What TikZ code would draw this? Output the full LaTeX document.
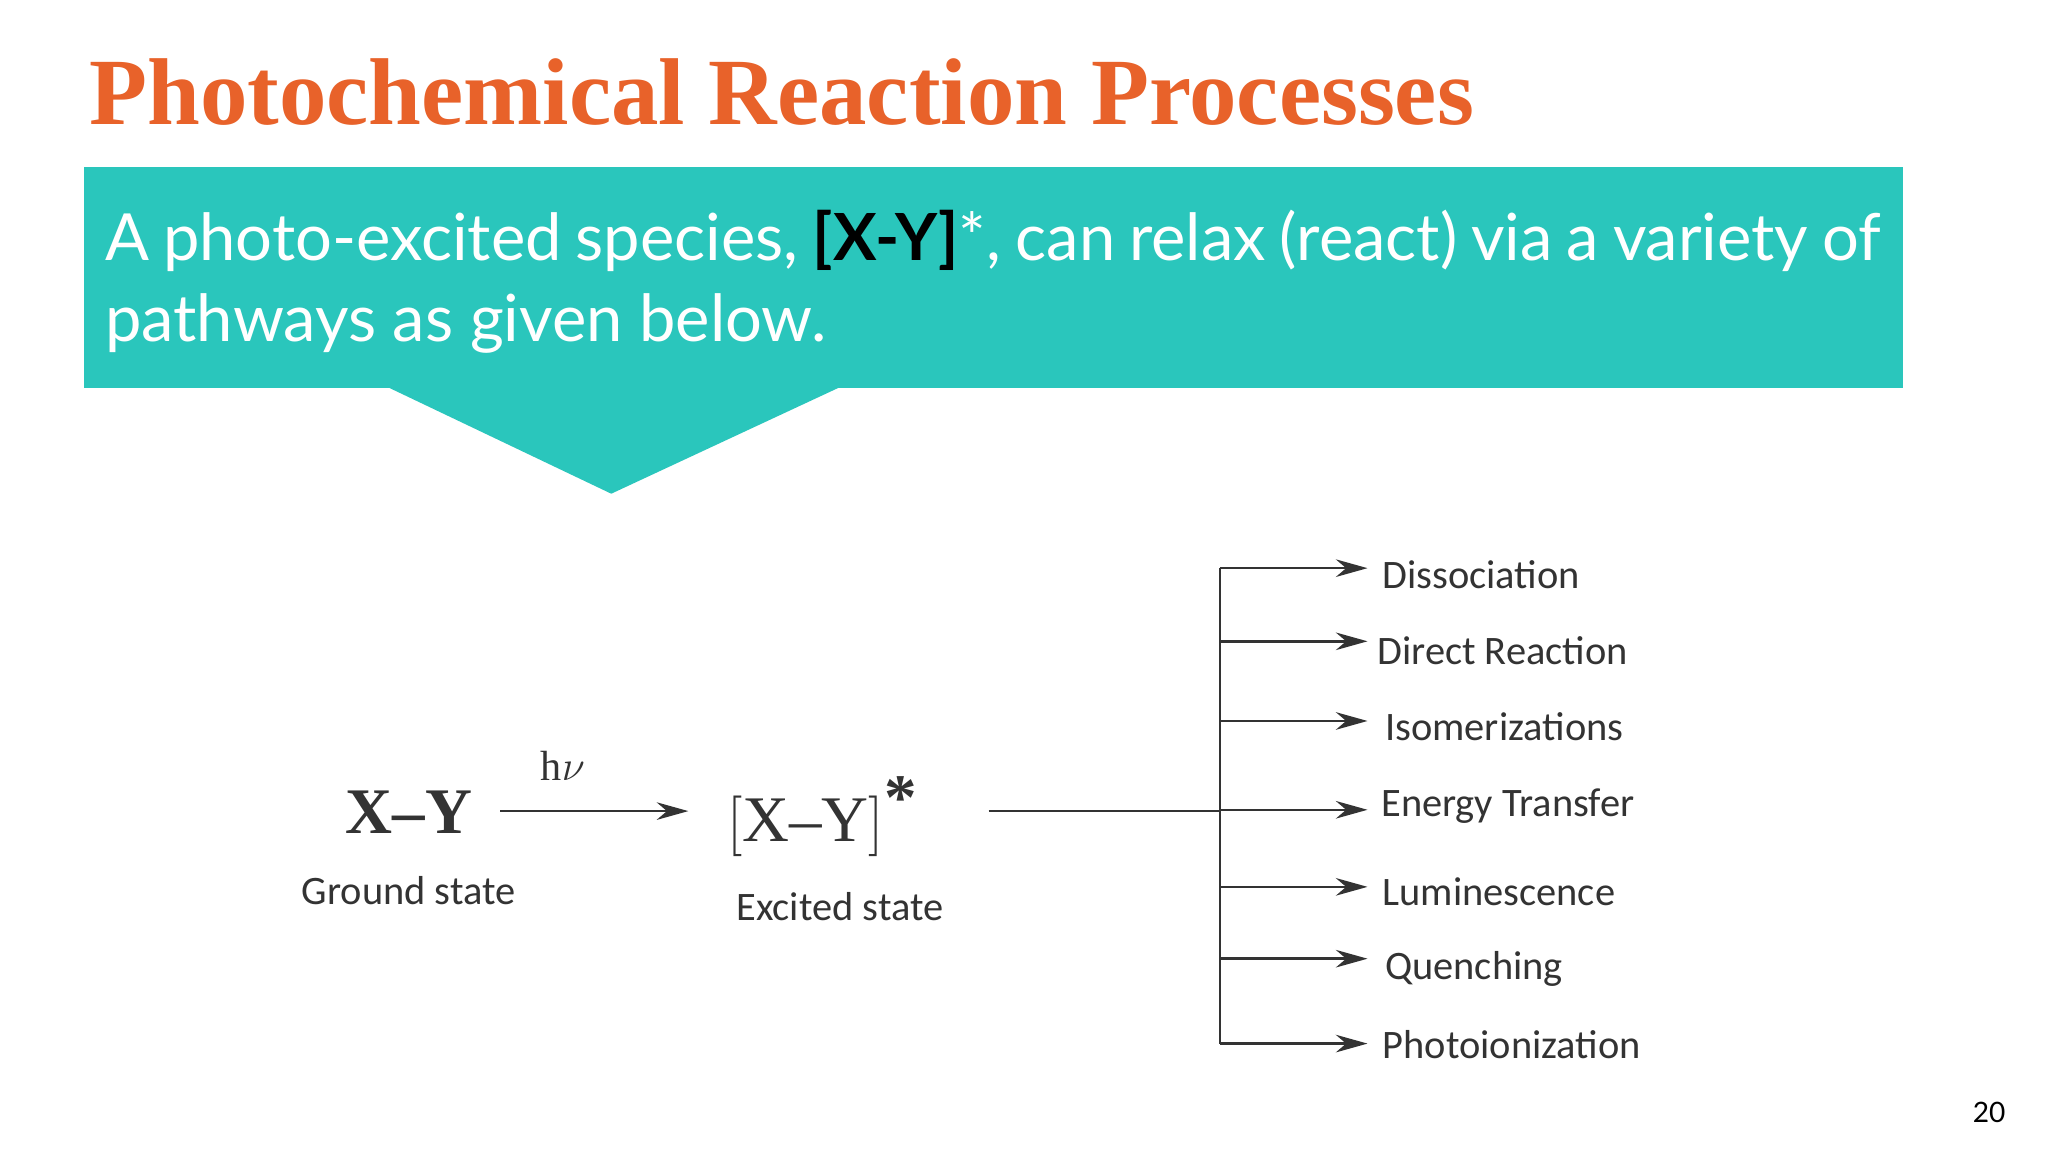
\documentclass[tikz,border=0pt]{standalone}
\usepackage{fontspec}
\setmainfont{Liberation Serif}
\newfontfamily\lato{Lato}
\newfontfamily\carl{Carlito}
\usetikzlibrary{arrows.meta}
\definecolor{ttl}{HTML}{E8622A}
\definecolor{teal}{HTML}{2AC6BC}
\definecolor{dg}{HTML}{333333}
\begin{document}
\begin{tikzpicture}[x=0.01306cm,y=-0.01306cm,
  lbl/.style={font=\carl\fontsize{11.5}{13}\selectfont,text=dg,inner sep=0pt},
  br/.style={-{Stealth[length=9pt,width=5pt]},dg,line width=0.7pt}]
\useasboundingbox[fill=white] (0,0) rectangle (1568,882);
\node[anchor=base west,inner sep=0pt,text=ttl,font=\bfseries\fontsize{27}{30}\selectfont] (title) at (68,95) {Photochemical Reaction Processes};
\fill[teal] (64,128) rectangle (1457,297);
\fill[teal] (296,296) -- (644,296) -- (468,378) -- cycle;
\node[anchor=north west,inner sep=0pt,text=white,font=\lato\fontsize{18.5}{23.3}\selectfont] (desc) at (80,160)
 {\parbox{17.76cm}{A photo-excited species, \textcolor{black}{\textbf{[X-Y]}}*, can relax (react) via a variety of pathways as given below.}};
\node[font=\bfseries\fontsize{18.5}{20}\selectfont,text=dg] (xy) at (313,622) {X--Y};
\node[lbl] (gs) at (313,682) {Ground state};
\node[font=\fontsize{12}{14}\selectfont,text=dg] (hv) at (431,586) {h$\nu$};
\coordinate (a1) at (383,621); \coordinate (a2) at (527,621);
\draw[br] (a1) -- (a2);
\node[font=\fontsize{18.5}{20}\selectfont,text=dg] (ex) at (630,625) {$\Big[$X--Y$\Big]^{\raisebox{-2pt}{\textbf{*}}}$};
\node[lbl] (es) at (643,694) {Excited state};
\coordinate (s) at (757,621); \coordinate (j) at (934,621);
\coordinate (t) at (934,435); \coordinate (b) at (934,799);
\draw[dg,line width=0.7pt] (s) -- (j) (t) -- (b);
\foreach \y/\ly/\lx/\txt/\n in {435/440/1058/Dissociation/d1,491/498/1054/Direct Reaction/d2,552/556/1060/Isomerizations/d3,620/617/1057/Energy Transfer/d4,679/683/1058/Luminescence/d5,734/742/1060/Quenching/d6,799/800/1058/Photoionization/d7}{
  \coordinate (p\n) at (934,\y); \coordinate (q\n) at (1047,\y);
  \draw[br] (p\n) -- (q\n);
  \node[lbl,anchor=west] (\n) at (\lx,\ly) {\txt};
}
\node[font=\lato\fontsize{8}{9}\selectfont,inner sep=0pt] (pg) at (1523,852) {20};
\end{tikzpicture}
\end{document}
